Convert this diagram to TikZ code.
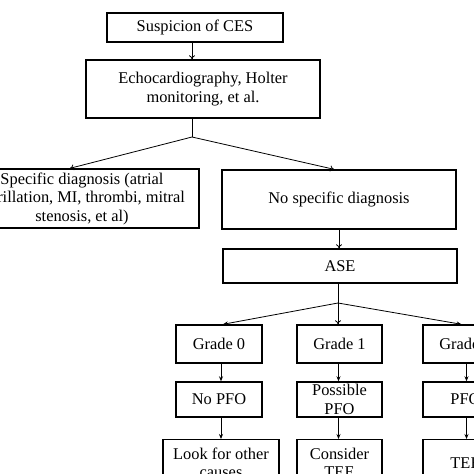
\documentclass[tikz,border=0pt]{standalone}
\usepackage{fontspec}
\setmainfont{Liberation Serif}
\usetikzlibrary{arrows.meta}
\begin{document}
\begin{tikzpicture}[x=1pt,y=-1pt,
  box/.style={draw,line width=1.4pt,rectangle,inner sep=1pt,align=center,
    font=\fontsize{16.4}{18.5}\selectfont},
  conn/.style={line width=0.8pt},
  arr/.style={conn,-{To[length=4pt,width=6pt]}},
  arrf/.style={conn,-{Stealth[length=5pt,width=4pt]}}]
\useasboundingbox (0,0) rectangle (474,474);
\clip (0,0) rectangle (474,474);
\fill[white] (0,0) rectangle (474,474);
% top
\node[box,minimum width=176,minimum height=29] (s1) at (195,27.5) {Suspicion of CES};
\node[box,minimum width=234,minimum height=58] (s2) at (203,89) {Echocardiography, Holter\\monitoring, et al.};
\draw[arr] ([xshift=-3]s1.south) -- ([xshift=-3]s1.south |- s2.north);
\coordinate (j1) at (192,137);
\node[box,minimum width=234,minimum height=59] (s3) at (82,198.5) {Specific diagnosis (atrial\\fibrillation, MI, thrombi, mitral\\stenosis, et al)};
\node[box,minimum width=234,minimum height=59] (s4) at (339,199.5) {No specific diagnosis};
\draw[conn] ([xshift=-11]s2.south) -- (j1);
\draw[arr] (j1) -- ([xshift=-12]s3.north);
\draw[arr] (j1) -- ([xshift=-5]s4.north);
\node[box,minimum width=234,minimum height=34] (s5) at (340,266) {ASE};
\draw[arr] (s4.south) -- (s4.south |- s5.north);
\coordinate (j2) at (338,303);
\draw[conn] ([xshift=-2]s5.south) -- (j2);
% grades
\node[box,minimum width=86,minimum height=38] (g0) at (219,344) {Grade 0};
\node[box,minimum width=85,minimum height=38] (g1) at (339.5,344) {Grade 1};
\node[box,minimum width=85,minimum height=38] (g2) at (465.5,344) {Grade 2};
\draw[arrf] (j2) -- ([xshift=4]g0.north);
\draw[arr] (j2) -- (j2 |- g1.north);
\draw[arrf] (j2) -- ([xshift=-4]g2.north);
\node[box,minimum width=86,minimum height=35] (p0) at (219,399.5) {No PFO};
\node[box,minimum width=85,minimum height=35,inner sep=0pt] (p1) at (339.5,399.5) {Possible\\[0.5pt]PFO};
\node[box,minimum width=85,minimum height=35] (p2) at (465.5,399.5) {PFO};
\draw[arrf] ([xshift=2]g0.south) -- ([xshift=2]p0.north);
\draw[arrf] ([xshift=-1]g1.south) -- ([xshift=-1]p1.north);
\draw[arrf] ([xshift=1]g2.south) -- ([xshift=1]p2.north);
\node[box,minimum width=116,minimum height=46,anchor=north] (b0) at (221,439) {Look for other\\causes};
\node[box,minimum width=85,minimum height=46,anchor=north] (b1) at (339.5,439) {Consider\\TEE};
\node[box,minimum width=85,minimum height=46,anchor=north] (b2) at (465.5,439) {TEE};
\draw[arrf] ([xshift=2]p0.south) -- ([xshift=2]p0.south |- b0.north);
\draw[arrf] ([xshift=-1]p1.south) -- ([xshift=-1]p1.south |- b1.north);
\draw[arrf] ([xshift=1]p2.south) -- ([xshift=1]p2.south |- b2.north);
\end{tikzpicture}
\end{document}
